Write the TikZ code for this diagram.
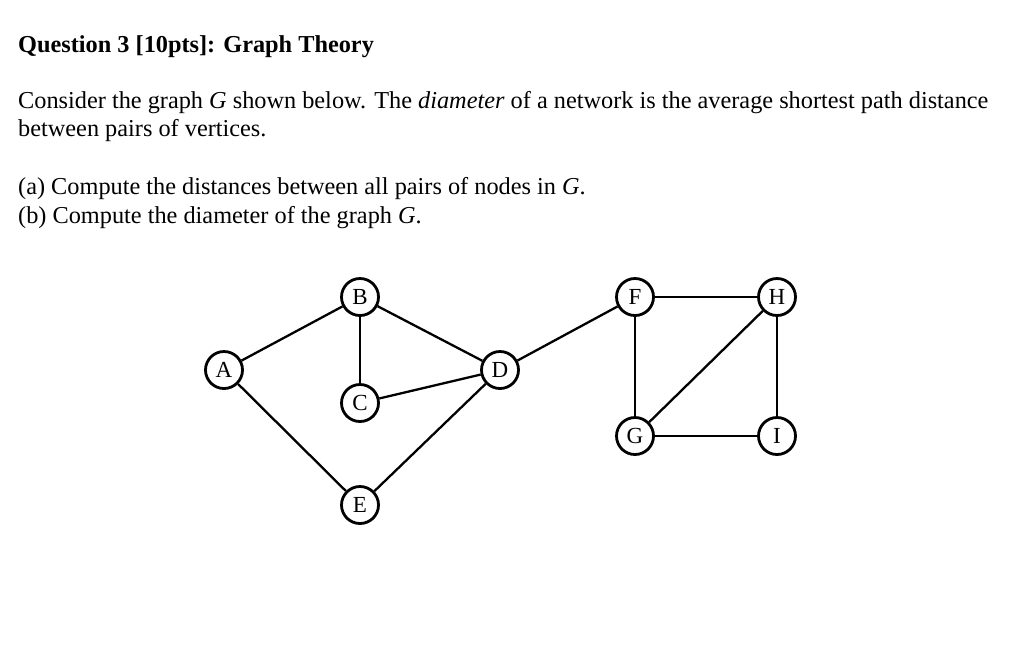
\documentclass[tikz,border=0pt]{standalone}
\usepackage{fontspec}
\setmainfont{Liberation Serif}
\begin{document}
\begin{tikzpicture}[x=1pt,y=-1pt,
  vtx/.style={circle,draw,line width=2.8pt,minimum size=37pt,inner sep=0pt,font=\fontsize{23}{23}\selectfont},
  edge/.style={line width=2.3pt},
  txt/.style={anchor=base west,inner sep=0pt,font=\fontsize{24.3}{24.3}\selectfont}]
\useasboundingbox (0,0) rectangle (1024,662);
\node[txt,font=\fontsize{24.3}{24.3}\selectfont\bfseries] (t0) at (18,52) {Question 3 [10pts]: Graph Theory};
\node[txt] (t1) at (18,108) {Consider the graph \textit{G} shown below. The \textit{diameter} of a network is the average shortest path distance};
\node[txt] (t2) at (18,136) {between pairs of vertices.};
\node[txt] (t3) at (18,194) {(a) Compute the distances between all pairs of nodes in \textit{G}.};
\node[txt] (t4) at (18,223) {(b) Compute the diameter of the graph \textit{G}.};
\node[vtx] (A) at (224,370) {A};
\node[vtx] (B) at (360,297) {B};
\node[vtx] (C) at (360,403) {C};
\node[vtx] (D) at (500,370) {D};
\node[vtx] (E) at (360,505) {E};
\node[vtx] (F) at (635,297) {F};
\node[vtx] (H) at (777,297) {H};
\node[vtx] (G) at (635,436) {G};
\node[vtx] (I) at (777,436) {I};
\draw[edge] (A)--(B); \draw[edge] (A)--(E); \draw[edge] (B)--(C);
\draw[edge] (B)--(D); \draw[edge] (C)--(D); \draw[edge] (E)--(D);
\draw[edge] (D)--(F); \draw[edge] (F)--(H); \draw[edge] (F)--(G);
\draw[edge] (G)--(H); \draw[edge] (H)--(I); \draw[edge] (G)--(I);
\end{tikzpicture}
\end{document}
